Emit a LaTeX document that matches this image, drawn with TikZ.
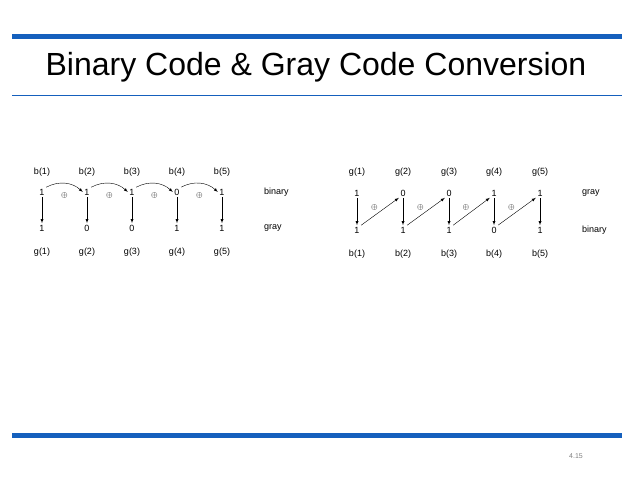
\documentclass[tikz,border=0pt]{standalone}
\usepackage{fontspec}
\setmainfont{Liberation Sans}
\usetikzlibrary{positioning,calc}
\definecolor{barblue}{RGB}{21,96,189}
\tikzset{
  lbl/.style={font=\fontsize{9}{10}\selectfont, inner sep=1pt},
  dig/.style={font=\fontsize{9}{10}\selectfont, inner sep=1.5pt},
  xo/.style={font=\fontsize{8}{9}\selectfont, inner sep=0pt},
  arr/.style={->, >=latex, thin},
}
\begin{document}
\begin{tikzpicture}[x=1pt,y=-1pt]
  \useasboundingbox (0,0) rectangle (638,478);
  % Frame
  \fill[barblue] (12,34) rectangle (622,39);
  \draw[barblue, thin] (12,95) -- (622,95);
  \fill[barblue] (12,433) rectangle (622,438);
  \node[font=\fontsize{32}{36}\selectfont] (title) at (316,67) {Binary Code \& Gray Code Conversion};
  \node[font=\fontsize{7}{8}\selectfont, text=gray] (page) at (576,456) {4.15};

  % Binary to gray
  \foreach \i/\x/\b/\g in {1/42/1/1, 2/87/1/0, 3/132/1/0, 4/177/0/1, 5/222/1/1} {
    \node[lbl] (bt\i) at (\x,172) {b(\i)};
    \node[dig] (bb\i) at (\x,192) {\b};
    \node[dig] (bg\i) at (\x,228) {\g};
    \node[lbl] (gt\i) at (\x,252) {g(\i)};
    \draw[arr] (bb\i) -- (bg\i);
  }
  \foreach \i/\j in {1/2, 2/3, 3/4, 4/5} {
    \draw[arr] (bb\i.north east) to[bend left=35] (bb\j.west);
    \node[xo] (bx\i) at ($(bb\i)!0.5!(bb\j)+(0,4)$) {$\oplus$};
  }
  \node[lbl, anchor=west] (lbin) at (263,192) {binary};
  \node[lbl, anchor=west] (lgray) at (263,228) {gray};

  % Gray to binary
  \foreach \i/\x/\g/\b in {1/357/1/1, 2/403/0/1, 3/449/0/1, 4/494/1/0, 5/540/1/1} {
    \node[lbl] (gh\i) at (\x,172) {g(\i)};
    \node[dig] (gg\i) at (\x,193) {\g};
    \node[dig] (gb\i) at (\x,230) {\b};
    \node[lbl] (bh\i) at (\x,254) {b(\i)};
    \draw[arr] (gg\i) -- (gb\i);
  }
  \foreach \i/\j in {1/2, 2/3, 3/4, 4/5} {
    \draw[arr] (gb\i.north east) -- (gg\j.south west);
    \node[xo] (gx\i) at ($(gb\i)!0.42!(gg\j)+(-2,-7)$) {$\oplus$};
  }
  \node[lbl, anchor=west] (rgray) at (581,193) {gray};
  \node[lbl, anchor=west] (rbin) at (581,230) {binary};
\end{tikzpicture}
\end{document}
